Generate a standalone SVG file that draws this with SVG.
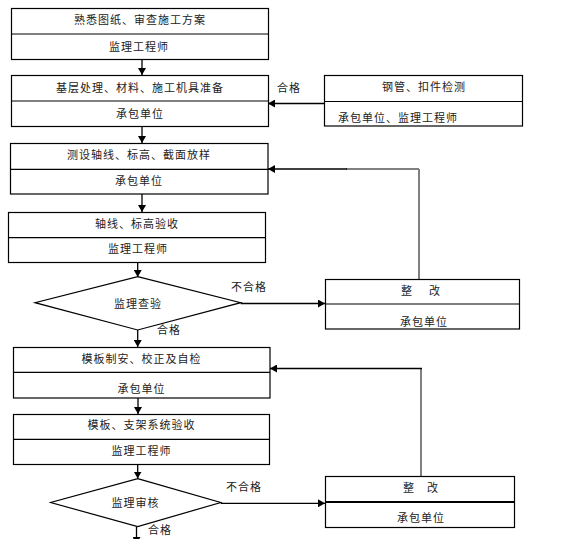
<svg xmlns="http://www.w3.org/2000/svg" width="587" height="539" viewBox="0 0 587 539">
<defs>
<style>
.b{fill:#fff;stroke:#000;stroke-width:1.2}
.d{stroke:#000;stroke-width:1.2;fill:none}
.c{stroke:#000;stroke-width:1.3;fill:none}
.g{stroke:#808080;stroke-width:2;fill:none}
text{font-family:"Noto Sans CJK SC","Noto Sans CJK JP",sans-serif;font-size:11px;fill:#222;letter-spacing:1px;dominant-baseline:central}
.m{text-anchor:middle}
</style>
<marker id="ah" markerWidth="8" markerHeight="8" refX="7" refY="4" orient="auto" markerUnits="userSpaceOnUse">
<path d="M0,0 L7,4 L0,8 Z" fill="#000"/>
</marker>
</defs>
<rect width="587" height="539" fill="#fff"/>

<g id="connectors">
<line class="c" x1="142" y1="59" x2="142" y2="75" marker-end="url(#ah)"/>
<line class="c" x1="324" y1="103.5" x2="268" y2="103.5" marker-end="url(#ah)"/>
<line class="c" x1="142" y1="127" x2="142" y2="143" marker-end="url(#ah)"/>
<line class="c" x1="142" y1="194" x2="142" y2="212" marker-end="url(#ah)"/>
<line class="c" x1="137.7" y1="262" x2="137.7" y2="277" marker-end="url(#ah)"/>
<line class="c" x1="240.7" y1="303.5" x2="325" y2="303.5" marker-end="url(#ah)"/>
<line class="c" x1="137.7" y1="330" x2="137.7" y2="347" marker-end="url(#ah)"/>
<line class="g" x1="419" y1="279" x2="419" y2="169"/>
<line class="g" x1="419" y1="169" x2="346" y2="169"/>
<line class="c" x1="347" y1="169" x2="268" y2="169" marker-end="url(#ah)"/>
<line class="g" x1="421" y1="476" x2="421" y2="368.5"/>
<line class="c" x1="422" y1="368.5" x2="270" y2="368.5" marker-end="url(#ah)"/>
<line class="c" x1="138" y1="398" x2="138" y2="414" marker-end="url(#ah)"/>
<line class="c" x1="137.7" y1="464" x2="137.7" y2="478.5" marker-end="url(#ah)"/>
<line class="c" x1="220.7" y1="503.3" x2="325" y2="503.3" marker-end="url(#ah)"/>
<line class="c" x1="136.5" y1="526.7" x2="136.5" y2="544" marker-end="url(#ah)"/>
</g>

<g id="n1">
<rect class="b" x="11.5" y="8.5" width="257" height="51"/>
<line class="d" x1="11.5" y1="34" x2="268.5" y2="34"/>
<text class="m" x="140" y="19">熟悉图纸、审查施工方案</text>
<text class="m" x="139" y="46">监理工程师</text>
</g>

<g id="n2">
<rect class="b" x="11.5" y="75.5" width="257" height="51"/>
<line class="d" x1="11.5" y1="101" x2="268.5" y2="101"/>
<text class="m" x="140" y="87">基层处理、材料、施工机具准备</text>
<text class="m" x="140" y="113">承包单位</text>
</g>

<g id="n3">
<rect class="b" x="324.5" y="75.5" width="198" height="50.5"/>
<line class="d" x1="324.5" y1="101.5" x2="522.5" y2="101.5"/>
<text class="m" x="424" y="86">钢管、扣件检测</text>
<text x="338" y="117">承包单位、监理工程师</text>
</g>

<text x="277" y="87">合格</text>

<g id="n4">
<rect class="b" x="10.5" y="143.5" width="257.5" height="50.5"/>
<line class="d" x1="10.5" y1="169.3" x2="268" y2="169.3"/>
<text class="m" x="139" y="154">测设轴线、标高、截面放样</text>
<text class="m" x="139" y="180">承包单位</text>
</g>

<g id="n5">
<rect class="b" x="8.5" y="212.5" width="257" height="50"/>
<line class="d" x1="8.5" y1="237.7" x2="265.5" y2="237.7"/>
<text class="m" x="137" y="223">轴线、标高验收</text>
<text class="m" x="138" y="248">监理工程师</text>
</g>

<g id="d1">
<polygon class="b" points="137.7,276.7 240.7,302.7 137.7,330 35,302.7"/>
<text class="m" x="138" y="303">监理查验</text>
</g>
<text x="231" y="286">不合格</text>
<text x="157" y="329">合格</text>

<g id="r1">
<rect class="b" x="325.5" y="279.5" width="194" height="49.5"/>
<line class="d" x1="325.5" y1="304" x2="519.5" y2="304"/>
<text x="401" y="290">整</text>
<text x="429" y="290">改</text>
<text class="m" x="424" y="321">承包单位</text>
</g>

<g id="n6">
<rect class="b" x="13.5" y="347.5" width="256.5" height="50.5"/>
<line class="d" x1="13.5" y1="372.3" x2="270" y2="372.3"/>
<text class="m" x="141.5" y="358">模板制安、校正及自检</text>
<text class="m" x="141.5" y="388">承包单位</text>
</g>

<g id="n7">
<rect class="b" x="13.5" y="414.5" width="256" height="50"/>
<line class="d" x1="13.5" y1="439.3" x2="269.5" y2="439.3"/>
<text class="m" x="141.5" y="424">模板、支架系统验收</text>
<text class="m" x="141.5" y="450">监理工程师</text>
</g>

<g id="d2">
<polygon class="b" points="137.7,478.7 220.7,502.5 137.7,526.7 50.7,502.5"/>
<text class="m" x="135.5" y="502">监理审核</text>
</g>
<text x="226" y="486">不合格</text>
<text x="148" y="529">合格</text>

<g id="r2">
<rect class="b" x="325.5" y="476.5" width="189" height="51"/>
<line stroke="#000" stroke-width="2" x1="325.5" y1="502" x2="514.5" y2="502"/>
<text x="403" y="487">整</text>
<text x="427" y="487">改</text>
<text class="m" x="421" y="517">承包单位</text>
</g>
</svg>
